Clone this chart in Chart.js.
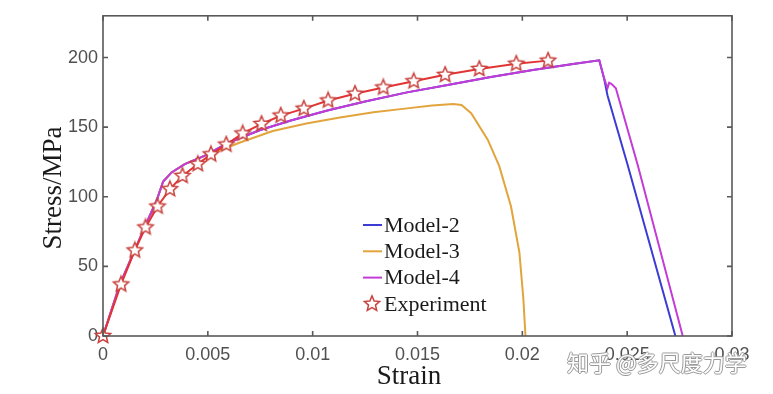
<!DOCTYPE html>
<html>
<head>
<meta charset="utf-8">
<script src="https://cdn.jsdelivr.net/npm/chart.js@4.4.1/dist/chart.umd.min.js"></script>
<style>
  body { margin: 0; background: #fff; }
  #wrap { position: relative; width: 773px; height: 394px; }
  #mark {
    position: absolute; left: 567px; top: 345px;
    font: 22px "Noto Sans CJK SC", sans-serif;
    color: #fff;
    text-shadow: 1px 0 0 #9a9a9a, -1px 0 0 #9a9a9a, 0 1px 0 #9a9a9a, 0 -1px 0 #9a9a9a;
    white-space: nowrap;
  }
</style>
</head>
<body>
<div id="wrap">
  <canvas id="stressChart" width="773" height="394"></canvas>
  <div id="mark">知乎 @多尺度力学</div>
</div>
<script>
// tick values and labels
var xTickValues = [0, 0.005, 0.01, 0.015, 0.02, 0.025, 0.03];
var xTickLabels = ["0", "0.005", "0.01", "0.015", "0.02", "0.025", "0.03"];
var yTickValues = [0, 50, 100, 150, 200];
var yTickLabels = ["0", "50", "100", "150", "200"];

// Model-2
var model2Strain = [0, 0.0008, 0.002, 0.00256, 0.00287, 0.00327, 0.0039, 0.00486, 0.006, 0.0075, 0.009, 0.0107, 0.0125, 0.0145, 0.0165, 0.0185, 0.0205, 0.0225, 0.02367, 0.0239, 0.02406, 0.02502, 0.0273];
var model2Stress = [0, 37, 78.5, 97.5, 111, 117.5, 123.5, 129.5, 139, 148, 155, 162, 168.5, 175, 180.5, 186, 191, 195.5, 198, 185, 173, 123, 0];

// Model-3
var model3Strain = [0, 0.0008, 0.002, 0.00256, 0.00287, 0.00327, 0.0039, 0.00486, 0.0057, 0.0065, 0.0081, 0.0097, 0.0113, 0.0129, 0.0145, 0.0157, 0.0167, 0.0171, 0.01756, 0.01835, 0.0189, 0.01946, 0.01986, 0.02005, 0.02015];
var model3Stress = [0, 37, 78.5, 97.5, 111, 117.5, 123.5, 129.5, 134, 138.8, 147.3, 152.6, 157, 160.7, 163.5, 165.5, 166.7, 166, 160, 141, 122, 93, 60, 26.5, 0];

// Model-4
var model4Strain = [0, 0.0008, 0.002, 0.00256, 0.00287, 0.00327, 0.0039, 0.00486, 0.006, 0.0075, 0.009, 0.0107, 0.0125, 0.0145, 0.0165, 0.0185, 0.0205, 0.0225, 0.02367, 0.0239, 0.02406, 0.02414, 0.02426, 0.02446, 0.0255, 0.02765];
var model4Stress = [0, 37, 78.5, 97.5, 111, 117.5, 123.5, 129.5, 139, 148, 155, 162, 168.5, 175, 180.5, 186, 191, 195.5, 198, 185, 178, 182, 181, 178, 123, 0];

// Experiment
var expStrain = [0, 0.00086, 0.00152, 0.00203, 0.0026, 0.00319, 0.00379, 0.00452, 0.00515, 0.00588, 0.00666, 0.00756, 0.00848, 0.00958, 0.01074, 0.01202, 0.01337, 0.01482, 0.01632, 0.01795, 0.01971, 0.02123];
var expStress = [0, 37, 61.5, 78, 93, 105.5, 115, 123.5, 130.5, 137.5, 145.5, 152.3, 158.3, 163.3, 169.2, 174, 178.5, 183, 187.6, 191.8, 195.6, 197.8];

function pts(xs, ys) {
  return xs.map(function (x, i) { return { x: x, y: ys[i] }; });
}

function starImage(r) {
  var c = document.createElement("canvas");
  var s = Math.ceil(r * 2 + 4);
  c.width = s;
  c.height = s;
  var g = c.getContext("2d");
  g.beginPath();
  for (var i = 0; i < 10; i++) {
    var rad = i % 2 ? r * 0.46 : r;
    var a = -Math.PI / 2 + i * Math.PI / 5;
    g.lineTo(s / 2 + rad * Math.cos(a), s / 2 + rad * Math.sin(a));
  }
  g.closePath();
  g.fillStyle = "#fff";
  g.fill();
  g.lineWidth = 1.5;
  g.strokeStyle = "#c8403c";
  g.stroke();
  return c;
}
var star = starImage(8);

var legendItems = [
  { text: "Model-2", color: "#3c3cd4" },
  { text: "Model-3", color: "#e2a43c" },
  { text: "Model-4", color: "#c43cd6" },
  { text: "Experiment", star: true },
];

// box, inward ticks, axis titles and legend
var framePlugin = {
  id: "frame",
  afterDraw: function (chart) {
    var ctx = chart.ctx;
    var a = chart.chartArea;
    var sx = chart.scales.x, sy = chart.scales.y;
    ctx.save();
    ctx.strokeStyle = "#595959";
    ctx.lineWidth = 1.6;
    ctx.strokeRect(a.left, a.top, a.right - a.left, a.bottom - a.top);
    ctx.beginPath();
    xTickValues.forEach(function (v) {
      var px = sx.getPixelForValue(v);
      ctx.moveTo(px, a.bottom); ctx.lineTo(px, a.bottom - 5);
      ctx.moveTo(px, a.top); ctx.lineTo(px, a.top + 5);
    });
    yTickValues.forEach(function (v) {
      var py = sy.getPixelForValue(v);
      ctx.moveTo(a.left, py); ctx.lineTo(a.left + 5, py);
      ctx.moveTo(a.right, py); ctx.lineTo(a.right - 5, py);
    });
    ctx.stroke();

    ctx.fillStyle = "#1a1a1a";
    ctx.font = "27px 'Liberation Serif', serif";
    ctx.textAlign = "center";
    ctx.textBaseline = "middle";
    ctx.fillText("Strain", 409, 377);
    ctx.translate(54, 188);
    ctx.rotate(-Math.PI / 2);
    ctx.fillText("Stress/MPa", 0, 0);
    ctx.restore();

    ctx.save();
    ctx.font = "22px 'Liberation Serif', serif";
    ctx.textAlign = "left";
    ctx.textBaseline = "middle";
    legendItems.forEach(function (it, i) {
      var y = 225 + i * 26.3;
      if (it.star) {
        ctx.drawImage(star, 372 - star.width / 2, y - star.height / 2);
      } else {
        ctx.strokeStyle = it.color;
        ctx.lineWidth = 2;
        ctx.beginPath();
        ctx.moveTo(363, y); ctx.lineTo(382, y);
        ctx.stroke();
      }
      ctx.fillStyle = "#1a1a1a";
      ctx.fillText(it.text, 384, y + 1);
    });
    ctx.restore();
  },
};

var ctx = document.getElementById("stressChart").getContext("2d");
var stressChart = new Chart(ctx, {
  type: "line",
  data: {
    datasets: [
      {
        label: "Model-2",
        data: pts(model2Strain, model2Stress),
        borderColor: "#3c3cd4",
        borderWidth: 2,
        pointRadius: 0,
        order: 3,
      },
      {
        label: "Model-3",
        data: pts(model3Strain, model3Stress),
        borderColor: "#e2a43c",
        borderWidth: 2,
        pointRadius: 0,
        order: 2,
      },
      {
        label: "Model-4",
        data: pts(model4Strain, model4Stress),
        borderColor: "#c43cd6",
        borderWidth: 2,
        pointRadius: 0,
        order: 1,
      },
      {
        label: "Experiment",
        data: pts(expStrain, expStress),
        borderColor: "#e23434",
        borderWidth: 2,
        pointStyle: star,
        pointRadius: 8,
        clip: false,
        order: 0,
      },
    ],
  },
  options: {
    responsive: false,
    animation: false,
    layout: { padding: { left: 0, top: 15, right: 41, bottom: 0 } },
    plugins: {
      legend: { display: false },
      tooltip: { enabled: false },
    },
    scales: {
      x: {
        type: "linear",
        min: 0,
        max: 0.03,
        grid: { display: false, drawTicks: false },
        border: { display: false },
        afterBuildTicks: function (s) {
          s.ticks = xTickValues.map(function (v) { return { value: v }; });
        },
        afterFit: function (s) { s.height = 58; },
        ticks: {
          padding: 8,
          autoSkip: false,
          maxRotation: 0,
          color: "#505050",
          font: { family: "'Liberation Sans', Arial, sans-serif", size: 18 },
          callback: function (v, i) { return xTickLabels[i]; },
        },
      },
      y: {
        min: 0,
        max: 230,
        grid: { display: false, drawTicks: false },
        border: { display: false },
        afterBuildTicks: function (s) {
          s.ticks = yTickValues.map(function (v) { return { value: v }; });
        },
        afterFit: function (s) { s.width = 103; },
        ticks: {
          padding: 5,
          color: "#505050",
          font: { family: "'Liberation Sans', Arial, sans-serif", size: 18 },
          callback: function (v, i) { return yTickLabels[i]; },
        },
      },
    },
  },
  plugins: [framePlugin],
});
</script>
</body>
</html>
